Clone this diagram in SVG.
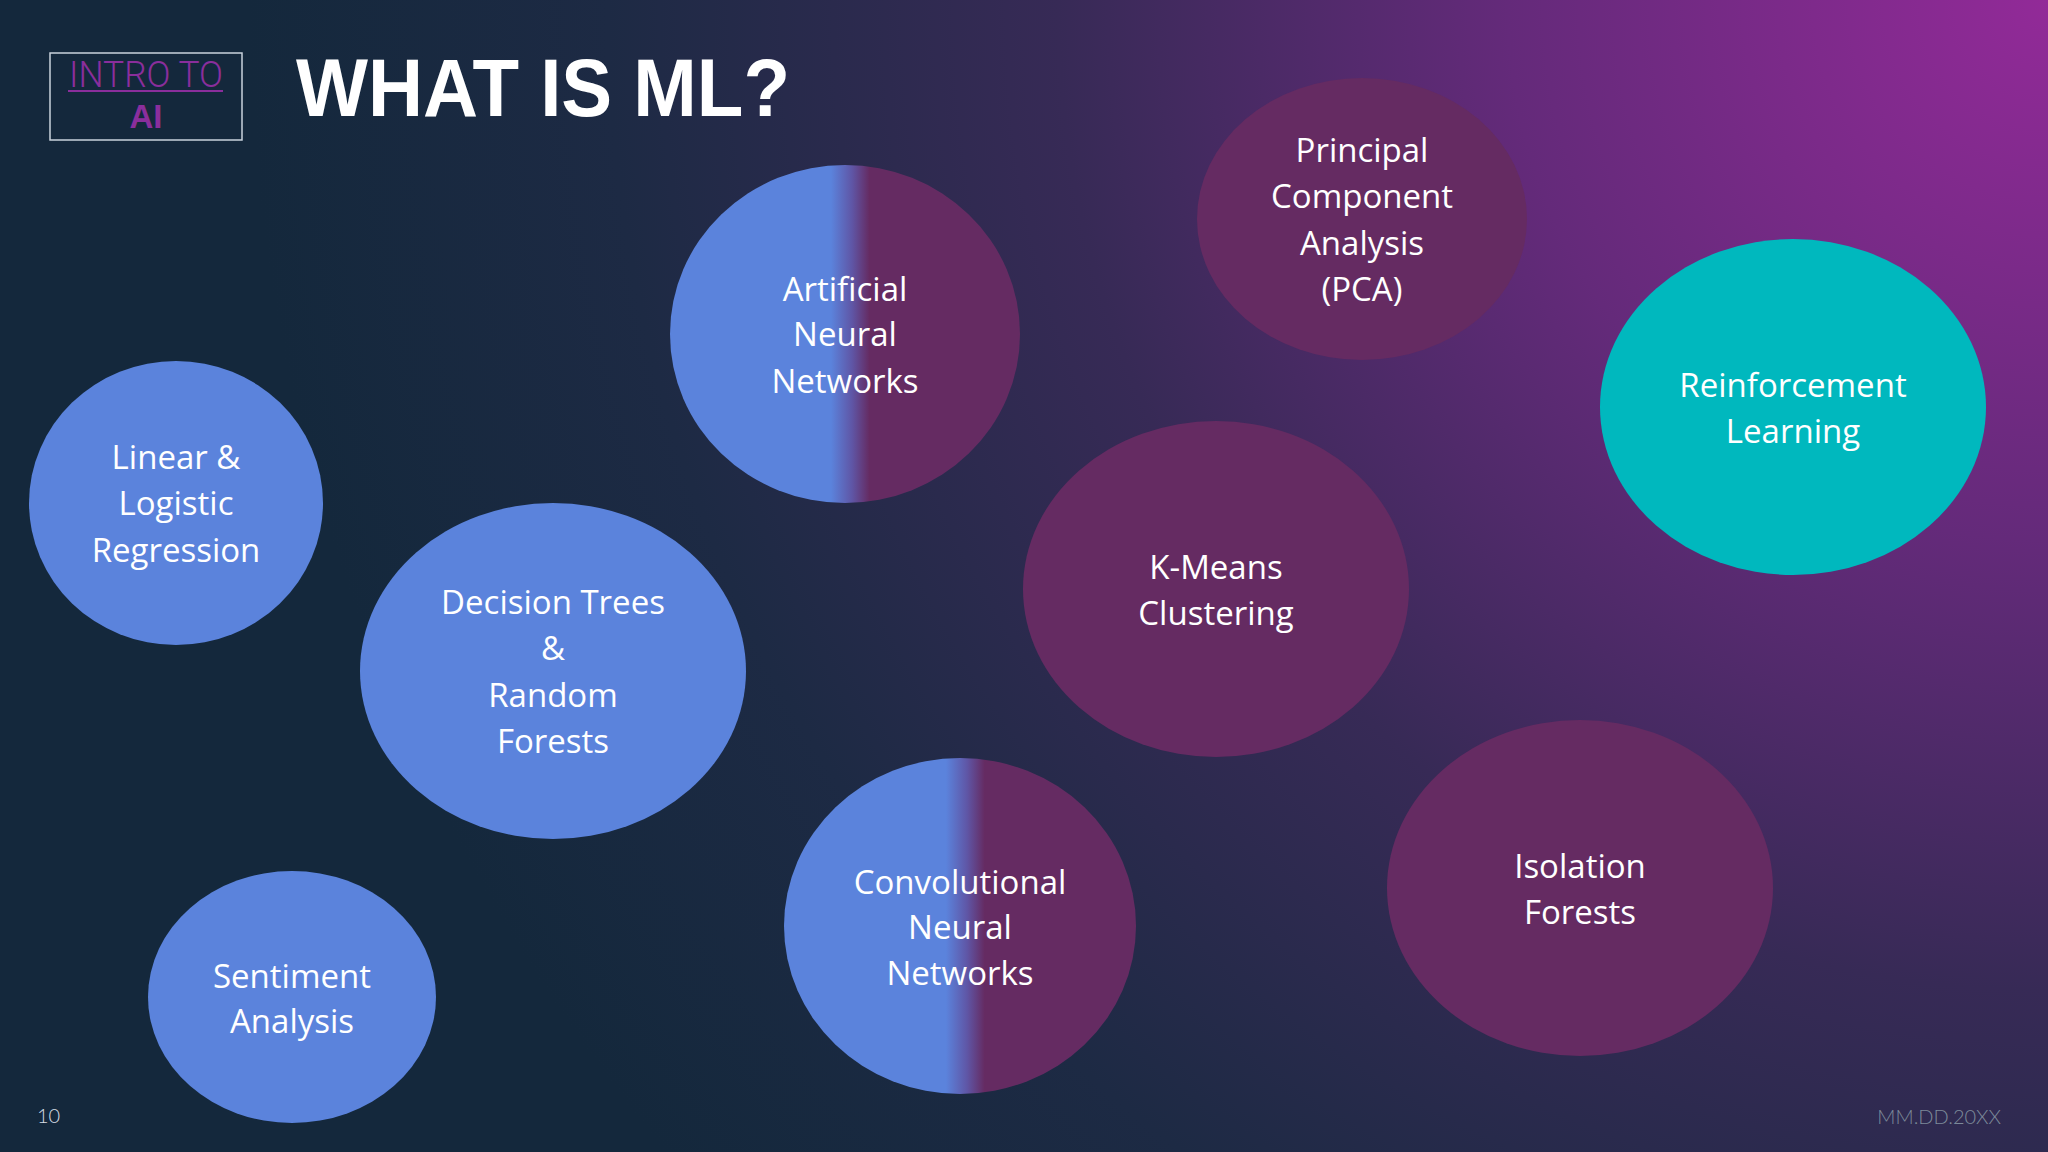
<svg xmlns="http://www.w3.org/2000/svg" width="2048" height="1152" viewBox="0 0 2048 1152">
<defs>
<radialGradient id="bg" cx="2048" cy="0" r="1800" gradientUnits="userSpaceOnUse">
<stop offset="0" stop-color="#922A98"/>
<stop offset="0.3" stop-color="#642A7A"/>
<stop offset="0.55" stop-color="#372A56"/>
<stop offset="0.8" stop-color="#1D2A44"/>
<stop offset="1" stop-color="#14283C"/>
</radialGradient>
<linearGradient id="split" x1="0" y1="0" x2="1" y2="0">
<stop offset="0" stop-color="#5B83DC"/>
<stop offset="0.46" stop-color="#5B83DC"/>
<stop offset="0.52" stop-color="#5F56A6"/>
<stop offset="0.57" stop-color="#652B62"/>
<stop offset="1" stop-color="#652B62"/>
</linearGradient>
</defs>
<style>
.blue{fill:#5B83DC}
.purple{fill:#652B62}
.teal{fill:#00B8BE}
.split{fill:url(#split)}
.lbl{font-family:"Open Sans","Noto Sans",sans-serif;font-size:33px;fill:#FFFFFF;text-anchor:middle}
</style>
<rect x="0" y="0" width="2048" height="1152" fill="url(#bg)"/>

<g id="logo">
<rect x="50" y="53" width="192" height="87" fill="none" stroke="#C9D2DC" stroke-width="1.5"/>
<text x="146" y="87" font-family="Roboto,'Liberation Sans',sans-serif" font-size="36" font-weight="300" fill="#8A2E9C" text-anchor="middle" textLength="154" lengthAdjust="spacingAndGlyphs">INTRO TO</text>
<line x1="68" y1="91" x2="223" y2="91" stroke="#8A2E9C" stroke-width="2"/>
<text x="146" y="128" font-family="'Liberation Sans',Arial,sans-serif" font-size="33" font-weight="bold" fill="#8A2E9C" text-anchor="middle">AI</text>
</g>

<g id="title">
<text x="296" y="116" font-family="'Liberation Sans',Arial,sans-serif" font-size="82" font-weight="bold" fill="#FFFFFF" textLength="494" lengthAdjust="spacingAndGlyphs">WHAT IS ML?</text>
</g>

<g id="connectors"></g>

<g id="node-linear">
<ellipse class="blue" cx="176" cy="503" rx="147" ry="142"/>
<text class="lbl" x="176" y="469">Linear &amp;</text>
<text class="lbl" x="176" y="515">Logistic</text>
<text class="lbl" x="176" y="562">Regression</text>
</g>

<g id="node-decision">
<ellipse class="blue" cx="553" cy="671" rx="193" ry="168"/>
<text class="lbl" x="553" y="614">Decision Trees</text>
<text class="lbl" x="553" y="660">&amp;</text>
<text class="lbl" x="553" y="707">Random</text>
<text class="lbl" x="553" y="753">Forests</text>
</g>

<g id="node-sentiment">
<ellipse class="blue" cx="292" cy="997" rx="144" ry="126"/>
<text class="lbl" x="292" y="988">Sentiment</text>
<text class="lbl" x="292" y="1033">Analysis</text>
</g>

<g id="node-ann">
<ellipse class="split" cx="845" cy="334" rx="175" ry="169"/>
<text class="lbl" x="845" y="301">Artificial</text>
<text class="lbl" x="845" y="346">Neural</text>
<text class="lbl" x="845" y="393">Networks</text>
</g>

<g id="node-cnn">
<ellipse class="split" cx="960" cy="926" rx="176" ry="168"/>
<text class="lbl" x="960" y="894">Convolutional</text>
<text class="lbl" x="960" y="939">Neural</text>
<text class="lbl" x="960" y="985">Networks</text>
</g>

<g id="node-pca">
<ellipse class="purple" cx="1362" cy="219" rx="165" ry="141"/>
<text class="lbl" x="1362" y="162">Principal</text>
<text class="lbl" x="1362" y="208">Component</text>
<text class="lbl" x="1362" y="255">Analysis</text>
<text class="lbl" x="1362" y="301">(PCA)</text>
</g>

<g id="node-rl">
<ellipse class="teal" cx="1793" cy="407" rx="193" ry="168"/>
<text class="lbl" x="1793" y="397">Reinforcement</text>
<text class="lbl" x="1793" y="443">Learning</text>
</g>

<g id="node-kmeans">
<ellipse class="purple" cx="1216" cy="589" rx="193" ry="168"/>
<text class="lbl" x="1216" y="579">K-Means</text>
<text class="lbl" x="1216" y="625">Clustering</text>
</g>

<g id="node-isolation">
<ellipse class="purple" cx="1580" cy="888" rx="193" ry="168"/>
<text class="lbl" x="1580" y="878">Isolation</text>
<text class="lbl" x="1580" y="924">Forests</text>
</g>

<g id="footer">
<text x="37" y="1123" font-family="Lato,'Open Sans',sans-serif" font-weight="300" font-size="20" fill="#D5DCE4">10</text>
<text x="2001" y="1124" font-family="Lato,'Open Sans',sans-serif" font-weight="300" font-size="20" fill="#7D8A9A" text-anchor="end">MM.DD.20XX</text>
</g>
</svg>
